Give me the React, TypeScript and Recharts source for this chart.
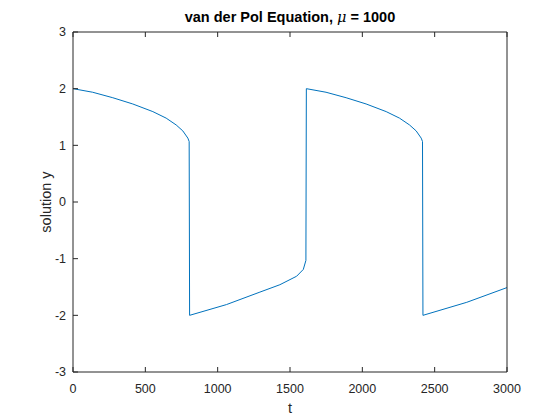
import React from 'react'
import { LineChart, Line, XAxis, YAxis, Label } from 'recharts'

// solution of van der Pol
const tValues = [
  0, 136, 275, 413, 552, 644, 713, 759, 794, 803, 806,
  1061, 1292, 1430, 1546, 1592, 1610, 1613,
  1749, 1888, 2026, 2165, 2257, 2326, 2372, 2407, 2416, 2419,
  2722, 3000,
]
const yValues = [
  2, 1.937, 1.84, 1.73, 1.595, 1.48, 1.36, 1.255, 1.127, 1.067, -2,
  -1.81, -1.59, -1.46, -1.31, -1.19, -1.03, 2,
  1.937, 1.84, 1.73, 1.595, 1.48, 1.36, 1.255, 1.127, 1.067, -2,
  -1.77, -1.51,
]
const xTicks = [0, 500, 1000, 1500, 2000, 2500, 3000]
const yTicks = [-3, -2, -1, 0, 1, 2, 3]

const data = tValues.map((t, i) => ({ t, y: yValues[i] }))

const FONT = '"Liberation Sans", Arial, Helvetica, sans-serif'
const INK = '#262626'
const tickStyle = { fontSize: 12.5, fill: INK, fontFamily: FONT }

const TitleLabel = (props: any) => {
  const vb = props.viewBox
  return (
    <text x={vb.x + vb.width / 2} y={22} textAnchor="middle" fontFamily={FONT} fontSize={14.5} fontWeight="bold" fill="#000">
      van der Pol Equation, <tspan fontStyle="italic" fontWeight="normal" fontFamily="'DejaVu Serif', serif">μ</tspan> = 1000
    </text>
  )
}

const XLabel = (props: any) => {
  const vb = props.viewBox
  return (
    <text x={vb.x + vb.width / 2} y={413} textAnchor="middle" fontFamily={FONT} fontSize={14.5} fill={INK}>t</text>
  )
}

const YLabel = (props: any) => {
  const vb = props.viewBox
  const cx = 51
  const cy = vb.y + vb.height / 2
  return (
    <text x={cx} y={cy} textAnchor="middle" fontFamily={FONT} fontSize={14.5} fill={INK} transform={`rotate(-90 ${cx} ${cy})`}>solution y</text>
  )
}

const App = () => {
  return <div style={{ position: 'absolute', left: 0, top: 0, width: 560, height: 420, background: '#fff' }}>
    <LineChart width={560} height={420} data={data} margin={{ top: 0, right: 0, bottom: 0, left: 0 }}>
      <XAxis dataKey="t" type="number" domain={[0, 3000]} ticks={xTicks} height={48}
        stroke={INK} tick={tickStyle} tickSize={-5} tickMargin={17} interval={0}>
        <Label content={<XLabel />} />
      </XAxis>
      <XAxis xAxisId="top" orientation="top" dataKey="t" type="number" domain={[0, 3000]} ticks={xTicks} height={32}
        stroke={INK} tick={tickStyle} tickSize={-5} tickFormatter={() => ''} interval={0}>
        <Label content={<TitleLabel />} />
      </XAxis>
      <YAxis type="number" domain={[-3, 3]} ticks={yTicks} width={73}
        stroke={INK} tick={tickStyle} tickSize={-5} tickMargin={12} interval={0}>
        <Label content={<YLabel />} />
      </YAxis>
      <YAxis yAxisId="right" orientation="right" type="number" domain={[-3, 3]} ticks={yTicks} width={53}
        stroke={INK} tick={tickStyle} tickSize={-5} tickFormatter={() => ''} interval={0} />
      <Line type="linear" dataKey="y" stroke="#0072BD" strokeWidth={1} dot={false} isAnimationActive={false} />
    </LineChart>
  </div>
}

export default App
